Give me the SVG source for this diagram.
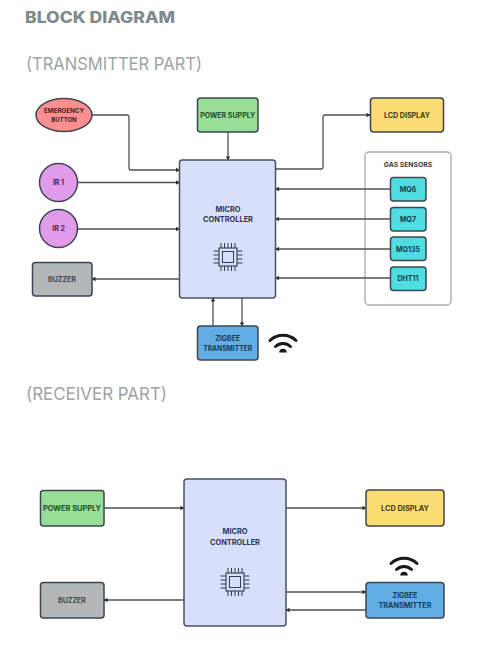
<svg xmlns="http://www.w3.org/2000/svg" width="485" height="652" viewBox="0 0 485 652">
<style>
text{font-family:"Inter","Liberation Sans",sans-serif;text-anchor:middle;font-weight:700;font-size:7px;fill:#2f3a3c}
.h1{font-size:15.5px;fill:#7f8a8c;text-anchor:start;font-weight:800}
.h2{font-size:17.5px;fill:#9ea3a5;text-anchor:start;font-weight:400}
.n{stroke:#3d4650;stroke-width:1.5}
.mc{fill:#d8dffb;stroke:#4a5260;stroke-width:1.5}
.pw{fill:#97de97}.lcd{fill:#fbdc72}.gy{fill:#b4b6b8}.zb{fill:#62aee4}.mq{fill:#4fdde2}.ir{fill:#e09ceb}
.tp{fill:#1f4d24}.tl{fill:#3f3a1c}.tg{fill:#43484c}.tz{fill:#173a5a}.tq{fill:#123f4c}.ti{fill:#4a2258}.te{fill:#4c1a24;font-size:6px}
.c{fill:none;stroke:#4c5254;stroke-width:1.3;marker-end:url(#a)}
.mt{font-size:7.4px;fill:#2e3552}
.chip{fill:none;stroke:#343c4e;stroke-width:1}
.wifi{fill:none;stroke:#15181c;stroke-linecap:round}
</style>
<defs>
<marker id="a" markerUnits="userSpaceOnUse" markerWidth="5" markerHeight="5" refX="4" refY="2.5" orient="auto"><path d="M0.5 0.3L4.5 2.5L0.5 4.7Z" fill="#2c3234"/></marker>
<g id="chip" class="chip">
<rect x="-9" y="-9" width="18" height="18" stroke-width="1.1"/><rect x="-5.500" y="-5.500" width="11" height="11"/>
<path d="M-7-9v-5M-3.500-9v-5M0-9v-5M3.500-9v-5M7-9v-5M-7 9v5M-3.500 9v5M0 9v5M3.500 9v5M7 9v5M-9-6h-5.500M-9-2h-5.500M-9 2h-5.500M-9 6h-5.500M9-6h5.500M9-2h5.500M9 2h5.500M9 6h5.500"/>
</g>
<g id="wifi">
<path class="wifi" stroke-width="3" d="M-13-3.500A19 19 0 0 1 13-3.500"/>
<path class="wifi" stroke-width="3" d="M-7.500 2.500A11 11 0 0 1 7.500 2.500"/>
<path d="M-3.800 8.500a3.800 3.800 0 0 1 7.600 0Z" fill="#15181c"/>
</g>
</defs>
<text class="h1" x="25" y="23" textLength="150" lengthAdjust="spacingAndGlyphs">BLOCK DIAGRAM</text>
<text class="h2" x="26" y="70" textLength="176" lengthAdjust="spacingAndGlyphs">(TRANSMITTER PART)</text>
<text class="h2" x="26" y="400" textLength="141" lengthAdjust="spacingAndGlyphs">(RECEIVER PART)</text>

<g id="gas"><rect x="365" y="152" width="86" height="153" rx="4" fill="#fff" stroke="#a5a9ab" stroke-width="1.300"/><text x="408" y="167" style="font-size:6.800px">GAS SENSORS</text></g>

<g id="connectors">
<path class="c" d="M92 115H127a2 2 0 0 1 2 2V168a2 2 0 0 0 2 2H179.500"/>
<path class="c" d="M78 182.500H179.500"/>
<path class="c" d="M77 229H179.500"/>
<path class="c" d="M179.500 279H92"/>
<path class="c" d="M228 132V160"/>
<path class="c" d="M275.500 169H321a2 2 0 0 0 2-2V117a2 2 0 0 1 2-2H370"/>
<path class="c" d="M390 189H275.500"/>
<path class="c" d="M390 219H275.500"/>
<path class="c" d="M390 249H275.500"/>
<path class="c" d="M390 278H275.500"/>
<path class="c" d="M213 326V298"/>
<path class="c" d="M242 298V326"/>
<path class="c" d="M104 508H184"/>
<path class="c" d="M184 600H104"/>
<path class="c" d="M286 508H366"/>
<path class="c" d="M286 592H366"/>
<path class="c" d="M366 610H286"/>
</g>

<g id="emergency"><ellipse class="n" cx="64" cy="115" rx="28" ry="16.500" fill="#fa8f8f"/><text class="te" x="64" y="113" textLength="40" lengthAdjust="spacingAndGlyphs">EMERGENCY</text><text class="te" x="64" y="122">BUTTON</text></g>
<g id="tx-power"><rect class="n pw" x="197.500" y="98" width="60.500" height="34" rx="3"/><text class="tp" x="227.700" y="117.500" textLength="55" lengthAdjust="spacingAndGlyphs">POWER SUPPLY</text></g>
<g id="tx-lcd"><rect class="n lcd" x="370.500" y="98" width="73" height="34" rx="3"/><text class="tl" x="407" y="117.500" textLength="46" lengthAdjust="spacingAndGlyphs">LCD DISPLAY</text></g>
<g id="ir1"><circle class="n ir" cx="58.500" cy="182.500" r="19"/><text class="ti" x="58.500" y="185">IR 1</text></g>
<g id="ir2"><circle class="n ir" cx="58.500" cy="228.500" r="19"/><text class="ti" x="58.500" y="231">IR 2</text></g>
<g id="tx-buzzer"><rect class="n gy" x="32.500" y="262.500" width="59.500" height="33.500" rx="3"/><text class="tg" x="62" y="281.500">BUZZER</text></g>
<g id="tx-mcu"><rect class="mc" x="179.500" y="160" width="96" height="138" rx="3"/><text class="mt" x="228" y="211.500">MICRO</text><text class="mt" x="228" y="221.500">CONTROLLER</text><use href="#chip" x="228" y="257"/></g>
<g id="mq6"><rect class="n mq" x="390.500" y="177.500" width="35.500" height="23.500" rx="3"/><text class="tq" x="408" y="191.500">MQ6</text></g>
<g id="mq7"><rect class="n mq" x="390.500" y="207.500" width="35.500" height="23.500" rx="3"/><text class="tq" x="408" y="221.500">MQ7</text></g>
<g id="mq135"><rect class="n mq" x="390.500" y="237" width="35.500" height="23.500" rx="3"/><text class="tq" x="408" y="251.500">MQ135</text></g>
<g id="dht11"><rect class="n mq" x="390.500" y="267" width="35.500" height="23.500" rx="3"/><text class="tq" x="408" y="281">DHT11</text></g>
<g id="tx-zigbee"><rect class="n zb" x="197.500" y="326" width="60.500" height="34" rx="3"/><text class="tz" x="227.700" y="341">ZIGBEE</text><text class="tz" x="227.700" y="350.500" textLength="49" lengthAdjust="spacingAndGlyphs">TRANSMITTER</text></g>
<use id="tx-wifi" href="#wifi" x="283" y="344"/>

<g id="rx-power"><rect class="n pw" x="40.500" y="490.500" width="63.500" height="35.500" rx="3"/><text class="tp" x="72" y="510.500" textLength="58" lengthAdjust="spacingAndGlyphs">POWER SUPPLY</text></g>
<g id="rx-buzzer"><rect class="n gy" x="40.500" y="582.500" width="63.500" height="35.500" rx="3"/><text class="tg" x="72" y="602.500">BUZZER</text></g>
<g id="rx-mcu"><rect class="mc" x="184" y="479" width="102" height="147" rx="3"/><text class="mt" x="235" y="534">MICRO</text><text class="mt" x="235" y="544.500">CONTROLLER</text><use href="#chip" x="235" y="582"/></g>
<g id="rx-lcd"><rect class="n lcd" x="366" y="490" width="78" height="36" rx="3"/><text class="tl" x="405" y="510.500" textLength="48" lengthAdjust="spacingAndGlyphs">LCD DISPLAY</text></g>
<g id="rx-zigbee"><rect class="n zb" x="366" y="582.500" width="78" height="35.500" rx="3"/><text class="tz" x="405" y="597.500">ZIGBEE</text><text class="tz" x="405" y="607.500" textLength="53" lengthAdjust="spacingAndGlyphs">TRANSMITTER</text></g>
<use id="rx-wifi" href="#wifi" x="404" y="567"/>
</svg>
